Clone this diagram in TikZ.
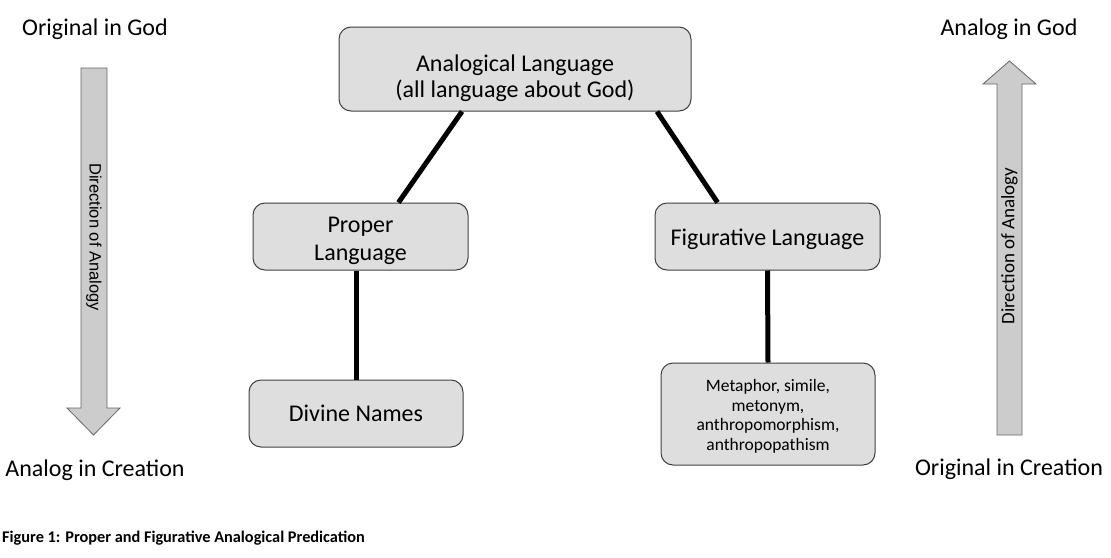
\documentclass[tikz,border=0pt]{standalone}
\usepackage{fontspec}
\setmainfont{Carlito}
\newfontfamily\arialfont{Liberation Sans}
\begin{document}
\begin{tikzpicture}[x=1pt,y=-1pt]
\tikzstyle{box}=[draw=black!75, fill=black!13, rounded corners=12pt, line width=1pt, align=center, inner sep=0pt]
\tikzstyle{link}=[line width=5pt]
\tikzstyle{dirarrow}=[draw=black!60, fill=black!20, line width=0.8pt]
\tikzstyle{endlabel}=[anchor=base, font=\fontsize{24}{28}\selectfont]
\useasboundingbox (0,0) rectangle (1111,557);

%%%------------------------------------------------------------------------------------------------------------
\node[box, minimum width=352pt, minimum height=84pt, text height=62pt, font=\fontsize{24}{26}\selectfont] (analog) at (515,69) {Analogical Language\\(all language about God)};
\node[box, minimum width=215pt, minimum height=67pt, text height=53pt, font=\fontsize{24}{28}\selectfont] (proper) at (360.5,236.5) {Proper\\Language};
\node[box, minimum width=225pt, minimum height=67pt, text height=23pt, font=\fontsize{24}{28}\selectfont] (figur) at (767.5,236.5) {Figurative Language};
\node[box, minimum width=214pt, minimum height=67pt, font=\fontsize{24}{28}\selectfont] (divine) at (356,413.5) {Divine Names};
\node[box, minimum width=214pt, minimum height=102pt, text height=75pt, font=\fontsize{17.5}{19.5}\selectfont] (metaph) at (768,414) {Metaphor, simile,\\metonym,\\anthropomorphism,\\anthropopathism};

\draw[link]([xshift=-53pt]analog.south)--([xshift=38pt]proper.north);
\draw[link]([xshift=142pt]analog.south)--([xshift=-50pt]figur.north);
\draw[link](divine.north |- proper.south)--(divine.north);
\draw[link](figur.south)--(metaph.north);

%%%------------------------------------------------------------------------------------------------------------
\begin{scope}
\draw[dirarrow](81,68)--(107,68)--(107,408)--(120,408)--(93.5,435)--(67,408)--(81,408)--cycle;
\node[rotate=-90, font=\arialfont\fontsize{16.5}{19}\selectfont] (dirleft) at (94,237) {Direction of Analogy};
\node[endlabel] (origgod) at (95,35) {Original in God};
\node[endlabel] (analcre) at (95,476) {Analog in Creation};
\end{scope}

%%%------------------------------------------------------------------------------------------------------------
\begin{scope}
\draw[dirarrow](997,435)--(997,84)--(983,84)--(1009.5,61)--(1036,84)--(1022,84)--(1022,435)--cycle;
\node[rotate=90, font=\fontsize{19}{21}\selectfont] (dirright) at (1009.5,246) {Direction of Analogy};
\node[endlabel] (analgod) at (1009,35) {Analog in God};
\node[endlabel] (origcre) at (1009,475) {Original in Creation};
\end{scope}

\node[anchor=west, inner sep=0pt, font=\bfseries\fontsize{16.3}{18}\selectfont] (caption) at (2,538) {Figure 1: Proper and Figurative Analogical Predication};
\end{tikzpicture}
\end{document}
